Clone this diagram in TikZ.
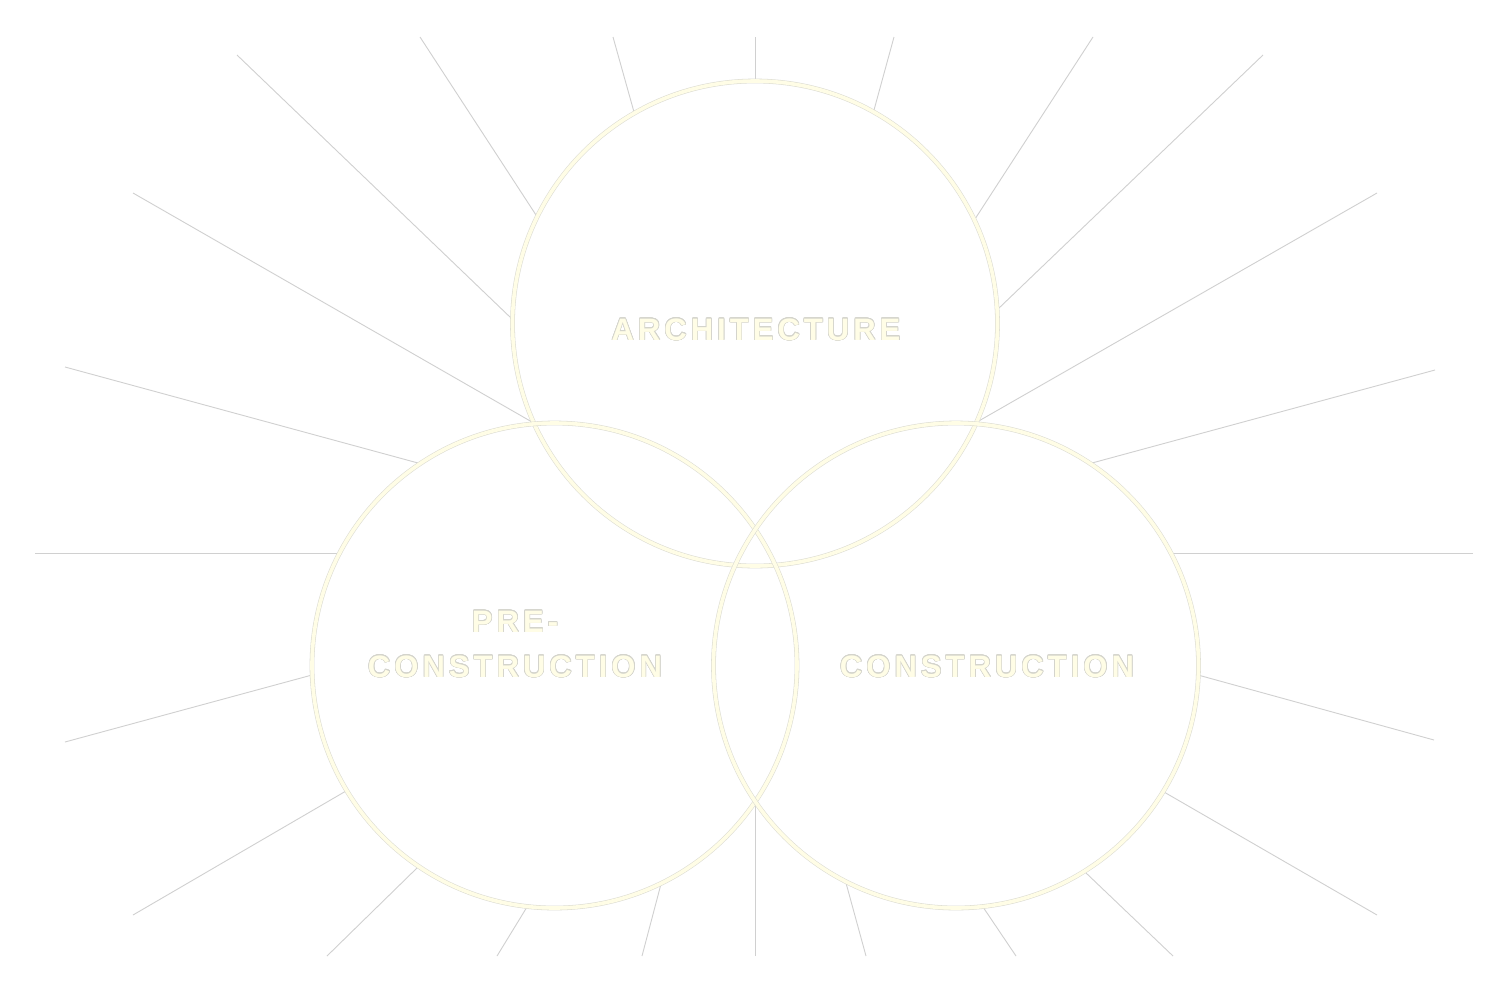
\documentclass[tikz,border=0pt]{standalone}
\usepackage{fontspec}
\setmainfont{Liberation Sans}
\newfontfamily\labelfont{Liberation Sans}[LetterSpace=13]
\usepackage{contour}
\contourlength{0.6pt}
\definecolor{cream}{HTML}{FFFDE6}
\definecolor{rimgrey}{HTML}{DCDCD2}
\definecolor{txtgrey}{HTML}{D4D4CC}
\definecolor{raygrey}{HTML}{D0D0D0}
\tikzset{
  ring/.style={circle, draw=rimgrey, line width=0.55pt, double=cream, double distance=3.6pt, inner sep=0pt, minimum size=485pt},
  ray/.style={draw=raygrey, line width=0.9pt},
  lbl/.style={text=cream, font=\labelfont\bfseries\fontsize{31}{44}\selectfont, inner sep=0pt, anchor=base},
}
\newcommand{\outl}[1]{\contour{txtgrey}{#1}}
\begin{document}
\begin{tikzpicture}[x=1pt,y=-1pt]
\useasboundingbox (0,0) rectangle (1500,994);
\fill[white] (0,0) rectangle (1500,994);
% rays
\foreach \ax/\ay/\bx/\by in {
 755/37/755/82, 613/37/634/112, 420/37/536/215, 237/55/511/318,
 133/193/532/422, 65/367/418/463, 35/553/338/553, 65/742/312/675,
 133/915/346/791, 327/956/418/867, 497/956/527/907, 642/956/661/884,
 755/956/755/805, 866/956/846/883, 1016/956/983/907, 1173/956/1085/872,
 1377/915/1164/792, 1434/740/1198/675, 1473/553/1172/553, 1435/370/1092/463,
 1377/193/977/422, 1263/55/998/309, 1093/37/975/219, 894/37/874/110}
 {\draw[ray] (\ax,\ay) -- (\bx,\by);}
% circles
\node[ring] (arch) at (755,323.5) {};
\node[ring] (pre) at (554.5,665.5) {};
\node[ring] (cons) at (956,665.5) {};
% labels
\node[lbl] (archlbl) at (756,340) {\outl{ARCHITECTURE}};
\node[lbl] (prelbl1) at (515,632) {\outl{PRE-}};
\node[lbl] (prelbl2) at (515,677) {\outl{CONSTRUCTION}};
\node[lbl] (conslbl) at (987,677) {\outl{CONSTRUCTION}};
\end{tikzpicture}
\end{document}
